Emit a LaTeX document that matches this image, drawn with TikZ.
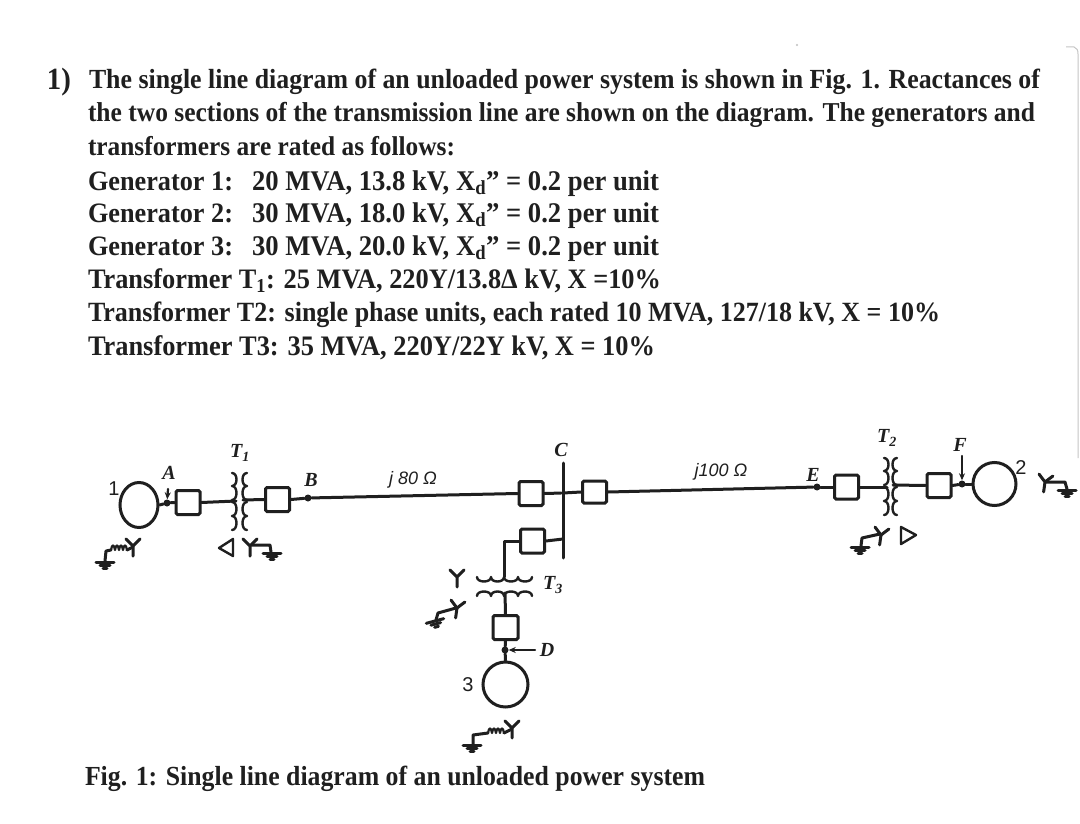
\documentclass[tikz,border=0pt]{standalone}
\usepackage{fontspec}
\usetikzlibrary{shapes.geometric,arrows.meta}
\setmainfont{Liberation Serif}
\newfontfamily\bodyfont{Liberation Serif}
\newfontfamily\labelsans{Liberation Sans}
\definecolor{ink}{gray}{0.12}
\newcommand{\fitline}[2]{\scalebox{1}[1.07]{\resizebox{#1pt}{!}{\bodyfont\bfseries\fontsize{24}{28}\selectfont\strut #2}}}
\newcommand{\Xd}{X\textsubscript{d}”}
\tikzset{
  x=1pt,y=-1pt,
  wire/.style={line width=3pt,draw=ink,line cap=round,line join=round},
  thin wire/.style={line width=2.2pt,draw=ink,line cap=round,line join=round},
  txt/.style={anchor=west,inner sep=0,outer sep=0,text=ink},
  lab/.style={inner sep=0,outer sep=0,text=ink,font=\bfseries\itshape\fontsize{20}{22}\selectfont},
  num/.style={inner sep=0,outer sep=0,text=ink,font=\labelsans\fontsize{20}{22}\selectfont},
  breaker/.style={rectangle,draw=ink,line width=3pt,rounded corners=1.5pt,inner sep=0,minimum width=24pt,minimum height=24pt},
  machine/.style={ellipse,draw=ink,line width=3pt,inner sep=0},
  busdot/.style={circle,fill=ink,inner sep=0,minimum size=7pt},
  arrowhd/.style={-{Stealth[length=7pt,width=6pt]}},
  coil/.pic={\draw[wire,line width=2.4pt] (0,0) .. controls (6,0) and (6,13) .. (0,13) .. controls (6,13) and (6,27) .. (0,27) (0,29) .. controls (6,29) and (6,43) .. (0,43) .. controls (6,43) and (6,57) .. (0,57);},
  hcoil/.pic={\draw[wire,line width=2.4pt] (0,0) .. controls (0,-6) and (14,-6) .. (14,0) .. controls (14,-6) and (27,-6) .. (27,0) .. controls (27,-6) and (41,-6) .. (41,0) .. controls (41,-6) and (55,-6) .. (55,0);},
  wyesym/.pic={\draw[wire] (0,0)--(0,10) (0,0)--(-7,-7) (0,0)--(7,-7);},
  earthsym/.pic={\draw[wire] (-9,0)--(9,0); \draw[wire] (-5,3)--(5,3); \draw[wire] (-2,6)--(2,6);},
  windsym/.pic={\draw[wire,line width=2.2pt] (0,0) .. controls (1,-6) and (3,-6) .. (4,0) .. controls (5,-6) and (7,-6) .. (8,0) .. controls (9,-6) and (11,-6) .. (12,0) .. controls (13,-6) and (15,-6) .. (16,0);},
}
\begin{document}
\begin{tikzpicture}
\useasboundingbox (0,0) rectangle (1080,824);
\fill[white] (0,0) rectangle (1080,824);
% faint page edge
\draw[gray!45,line width=1pt] (1066,47) -- (1074,47) .. controls (1077,48) and (1078,50) .. (1078,54) -- (1078,458);
\fill[gray!50] (797,45) circle (1.2);

% text
\node[txt] (t0) at (47,82.5) {\fitline{24}{1)}};
\node[txt] (t1) at (89,82) {\fitline{951}{The single line diagram of an unloaded power system is shown in Fig. 1. Reactances of}};
\node[txt] (t2) at (88,115) {\fitline{947}{the two sections of the transmission line are shown on the diagram. The generators and}};
\node[txt] (t3) at (88,149) {\fitline{367}{transformers are rated as follows:}};
\node[txt] (t4) at (88,183.5) {\fitline{145}{Generator 1:}};
\node[txt] (t4b) at (252,183.5) {\fitline{407}{20 MVA, 13.8 kV, \Xd{} = 0.2 per unit}};
\node[txt] (t5) at (88,215.5) {\fitline{145}{Generator 2:}};
\node[txt] (t5b) at (252,215.5) {\fitline{407}{30 MVA, 18.0 kV, \Xd{} = 0.2 per unit}};
\node[txt] (t6) at (88,248.5) {\fitline{145}{Generator 3:}};
\node[txt] (t6b) at (252,248.5) {\fitline{407}{30 MVA, 20.0 kV, \Xd{} = 0.2 per unit}};
\node[txt] (t7) at (88,282) {\fitline{573}{Transformer T\textsubscript{1}: 25 MVA, 220Y/13.8Δ kV, X =10\%}};
\node[txt] (t8) at (88,315) {\fitline{852}{Transformer T2: single phase units, each rated 10 MVA, 127/18 kV, X = 10\%}};
\node[txt] (t9) at (88,349) {\fitline{567}{Transformer T3: 35 MVA, 220Y/22Y kV, X = 10\%}};
\node[txt] (t10) at (85,779) {\fitline{620}{Fig. 1: Single line diagram of an unloaded power system}};

% machines
\node[machine,minimum width=38pt,minimum height=45pt] (g1) at (139,505) {};
\node[machine,minimum width=43pt,minimum height=43pt] (g2) at (994.5,484) {};
\node[machine,minimum width=45pt,minimum height=45pt] (g3) at (505.5,684.5) {};
% breakers
\node[breaker] (b1) at (188,502.5) {};
\node[breaker] (b2) at (277.5,499.5) {};
\node[breaker] (b3) at (531,493.5) {};
\node[breaker,minimum height=22pt] (b4) at (594.5,492) {};
\node[breaker] (b5) at (846.5,487) {};
\node[breaker] (b6) at (939,485.5) {};
\node[breaker] (b7) at (532.5,541) {};
\node[breaker,minimum width=25pt] (b8) at (505.5,627.5) {};
% buses
\node[busdot] (A) at (167,503) {};
\node[busdot] (B) at (308,498) {};
\node[busdot] (E) at (817,487) {};
\node[busdot] (F) at (962,484) {};
\node[busdot] (D) at (505,650) {};
\node[busdot,minimum size=4pt] (C) at (563,493) {};
\coordinate (Ctop) at (563,463);
\coordinate (Cbot) at (563,558);
\coordinate (Cbr) at (563,539);
\coordinate (Aa) at (168,489);
\coordinate (Fa) at (962,456);
\coordinate (Da) at (535,650);
\coordinate (t1L) at (236,501);
\coordinate (t1R) at (243,500);
\coordinate (t2L) at (887,487);
\coordinate (t2R) at (893,485);
\coordinate (t3U) at (504,577);
\coordinate (t3D) at (505,593);
\coordinate (b7c) at (504,541);

% connectors
\draw[wire] (g1.east) -- (A);
\draw[wire] (A) -- (b1.west);
\draw[wire] (b1.east) -- (t1L);
\draw[wire] (t1R) -- (b2.west);
\draw[wire] (b2.east) -- (B);
\draw[wire] (B) -- (b3.west);
\draw[wire] (b3.east) -- (C);
\draw[wire] (C) -- (b4.west);
\draw[wire] (b4.east) -- (E);
\draw[wire] (E) -- (b5.west);
\draw[wire] (b5.east) -- (t2L);
\draw[wire] (t2R) -- (b6.west);
\draw[wire] (b6.east) -- (F);
\draw[wire] (F) -- (g2.west);
\draw[wire] (Ctop) -- (Cbot);
\draw[wire] (b7.east) -- (Cbr);
\draw[wire] (b7.west) -- (b7c) -- (t3U);
\draw[wire] (t3D) -- (b8.north);
\draw[wire] (b8.south) -- (D);
\draw[wire] (D) -- (g3.north);
\draw[thin wire,arrowhd] (Aa) -- (A);
\draw[thin wire,arrowhd] (Fa) -- (F);
\draw[thin wire,arrowhd] (Da) -- (D);

% transformers
\pic at (232,473) {coil};
\pic[xscale=-1] at (247,473) {coil};
\pic at (884,458) {coil};
\pic[xscale=-1] at (897,458) {coil};
\pic[yscale=-1] at (477,577) {hcoil};
\pic at (477,596) {hcoil};

% winding symbols: T1
\draw[wire,line width=2.4pt] (233,539) -- (233,556) -- (219,548) -- cycle;
\pic at (250,546) {wyesym};
\draw[wire] (252,545) -- (270,545) -- (271,552);
\pic at (272,553) {earthsym};
% T2
\draw[wire,line width=2.4pt] (901,527) -- (901,544) -- (916,535) -- cycle;
\pic[rotate=-8] at (881,535) {wyesym};
\draw[wire] (880,534) -- (862,538) -- (861,546);
\pic at (860,547) {earthsym};
% G1
\pic at (133,546) {wyesym};
\pic at (111,550) {windsym};
\draw[wire] (127,550) -- (133,547);
\draw[wire] (111,550) -- (106,551) -- (105,561);
\pic at (105,562) {earthsym};
% G2
\pic[rotate=-8] at (1045,482) {wyesym};
\draw[wire] (1046,482) -- (1065,482) -- (1067,489);
\pic at (1067,490) {earthsym};
% T3
\pic at (457,577) {wyesym};
\pic[rotate=-8] at (457,608) {wyesym};
\draw[wire] (456,608) -- (438,613) -- (436,620);
\pic[rotate=15] at (435,621) {earthsym};
% G3
\pic at (512,728) {wyesym};
\pic at (488,733) {windsym};
\draw[wire] (504,733) -- (512,729);
\draw[wire] (488,733) -- (473,735) -- (473,744);
\pic at (472,745) {earthsym};

% labels
\node[lab] (lA) at (169,473) {A};
\node[lab] (lB) at (311,480) {B};
\node[lab] (lC) at (561,450) {C};
\node[lab] (lE) at (813,475) {E};
\node[lab] (lF) at (960,445) {F};
\node[lab] (lD) at (547,650) {D};
\node[lab] (lT1) at (240,453) {T\textsubscript{1}};
\node[lab] (lT2) at (887,438) {T\textsubscript{2}};
\node[lab] (lT3) at (553,585) {T\textsubscript{3}};
\node[num] (n1) at (114,489) {1};
\node[num] (n2) at (1021,468) {2};
\node[num] (n3) at (468,685) {3};
\node[num,font=\labelsans\itshape\fontsize{18}{20}\selectfont] (x80) at (413,480) {j 80 Ω};
\node[num,font=\labelsans\itshape\fontsize{18}{20}\selectfont] (x100) at (721,472) {j100 Ω};
\end{tikzpicture}
\end{document}
